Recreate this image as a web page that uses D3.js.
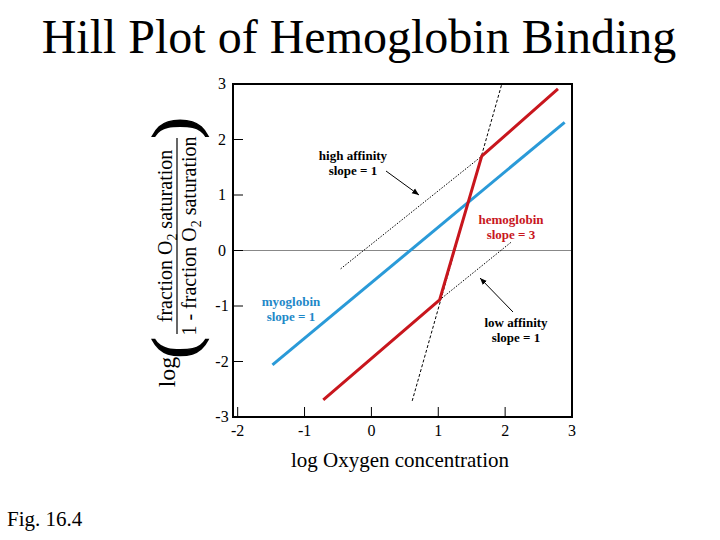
<!DOCTYPE html>
<html><head><meta charset="utf-8">
<script src="https://cdn.jsdelivr.net/npm/d3@7"></script>
<style>body{margin:0;background:#fff}text{font-family:"Liberation Serif","Times New Roman",serif}</style>
</head><body><div id="wrapper"></div>
<script>
const xTicks = [-2, -1, 0, 1, 2, 3];
const yTicks = [-3, -2, -1, 0, 1, 2, 3];
const myoglobin = [[-1.48, -2.06], [2.89, 2.31]];
const hemoglobin = [[-0.72, -2.69], [1.02, -0.89], [1.65, 1.70], [2.79, 2.91]];
const highAffinity = [[-0.46, -0.33], [1.65, 1.70]];
const lowAffinity = [[1.02, -0.89], [2.1, 0.16]];
const steepLine = [[0.61, -2.71], [1.95, 3.0]];

const svg = d3.select("#wrapper").append("svg").attr("width", 720).attr("height", 540);

const x = d3.scaleLinear().domain([-2.07, 3]).range([233, 572]);
const y = d3.scaleLinear().domain([-3, 3]).range([417, 84]);

svg.append("defs").append("marker").attr("id", "arr")
  .attr("viewBox", "0 0 10 10").attr("refX", 10).attr("refY", 5)
  .attr("markerWidth", 7).attr("markerHeight", 7).attr("orient", "auto")
  .append("path").attr("d", "M0,1L10,5L0,9z").attr("fill", "#000");

// zero line
svg.append("line").attr("x1", 233).attr("x2", 572).attr("y1", y(0)).attr("y2", y(0))
  .attr("stroke", "#888").attr("stroke-width", 1);

// ticks inside
yTicks.forEach(t => {
  svg.append("line").attr("x1", 233).attr("x2", 243).attr("y1", y(t)).attr("y2", y(t)).attr("stroke", "#000");
  svg.append("text").attr("x", 222).attr("y", y(t) + 5).attr("text-anchor", "middle")
    .style("font-size", "16px").text(t);
});
xTicks.forEach(t => {
  svg.append("line").attr("x1", x(t)).attr("x2", x(t)).attr("y1", 417).attr("y2", 407).attr("stroke", "#000");
  svg.append("text").attr("x", x(t)).attr("y", 436).attr("text-anchor", "middle")
    .style("font-size", "16px").text(t);
});

const line = d3.line().x(d => x(d[0])).y(d => y(d[1]));
svg.append("path").attr("d", line(highAffinity)).attr("fill", "none").attr("stroke", "#000")
  .attr("stroke-width", 1).attr("stroke-dasharray", "1.5 1.5");
svg.append("path").attr("d", line(lowAffinity)).attr("fill", "none").attr("stroke", "#000")
  .attr("stroke-width", 1).attr("stroke-dasharray", "1.5 1.5");
svg.append("path").attr("d", line(steepLine)).attr("fill", "none").attr("stroke", "#000")
  .attr("stroke-width", 1).attr("stroke-dasharray", "3 2");
svg.append("path").attr("d", line(myoglobin)).attr("fill", "none").attr("stroke", "#2a9ad8").attr("stroke-width", 3);
svg.append("path").attr("d", line(hemoglobin)).attr("fill", "none").attr("stroke", "#c8161d").attr("stroke-width", 3);

svg.append("rect").attr("x", 233).attr("y", 84).attr("width", 339).attr("height", 333)
  .attr("fill", "none").attr("stroke", "#000").attr("stroke-width", 2);

// annotations
const note = (tx, ty, lines, color) => lines.forEach((l, i) =>
  svg.append("text").attr("x", tx).attr("y", ty + i * 15).attr("text-anchor", "middle")
    .style("font-size", "13px").style("font-weight", "bold").attr("fill", color).text(l));
note(353, 160, ["high affinity", "slope = 1"], "#000");
note(511, 224, ["hemoglobin", "slope = 3"], "#c8161d");
note(291, 306, ["myoglobin", "slope = 1"], "#1e88c8");
note(516, 327, ["low affinity", "slope = 1"], "#000");
svg.append("line").attr("x1", 386).attr("y1", 171).attr("x2", 419).attr("y2", 195)
  .attr("stroke", "#000").attr("marker-end", "url(#arr)");
svg.append("line").attr("x1", 513).attr("y1", 312).attr("x2", 480).attr("y2", 278)
  .attr("stroke", "#000").attr("marker-end", "url(#arr)");

// titles
svg.append("text").attr("x", 359).attr("y", 53).attr("text-anchor", "middle")
  .style("font-size", "48px").text("Hill Plot of Hemoglobin Binding");
svg.append("text").attr("x", 400).attr("y", 467).attr("text-anchor", "middle")
  .style("font-size", "21px").text("log Oxygen concentration");
svg.append("text").attr("x", 7).attr("y", 526).style("font-size", "21px").text("Fig. 16.4");

// y label
const yl = svg.append("g").attr("transform", "translate(177,236) rotate(-90)");
yl.append("text").attr("x", -136).attr("y", -2).attr("text-anchor", "middle").style("font-size", "24px").text("log");
yl.append("text").attr("x", -112).attr("y", 18).attr("text-anchor", "middle").style("font-size", "62px")
  .attr("stroke", "#000").attr("stroke-width", 1.5).text("(");
yl.append("text").attr("x", 108).attr("y", 18).attr("text-anchor", "middle").style("font-size", "62px")
  .attr("stroke", "#000").attr("stroke-width", 1.5).text(")");
const num = yl.append("text").attr("x", 0).attr("y", -5).attr("text-anchor", "middle").style("font-size", "20px");
num.append("tspan").text("fraction O");
num.append("tspan").attr("dy", 5).style("font-size", "14px").text("2");
num.append("tspan").attr("dy", -5).text(" saturation");
yl.append("line").attr("x1", -98).attr("x2", 98).attr("y1", 0).attr("y2", 0).attr("stroke", "#000").attr("stroke-width", 1.2);
const den = yl.append("text").attr("x", 0).attr("y", 19).attr("text-anchor", "middle").style("font-size", "20px");
den.append("tspan").text("1 - fraction O");
den.append("tspan").attr("dy", 5).style("font-size", "14px").text("2");
den.append("tspan").attr("dy", -5).text(" saturation");
</script></body></html>
